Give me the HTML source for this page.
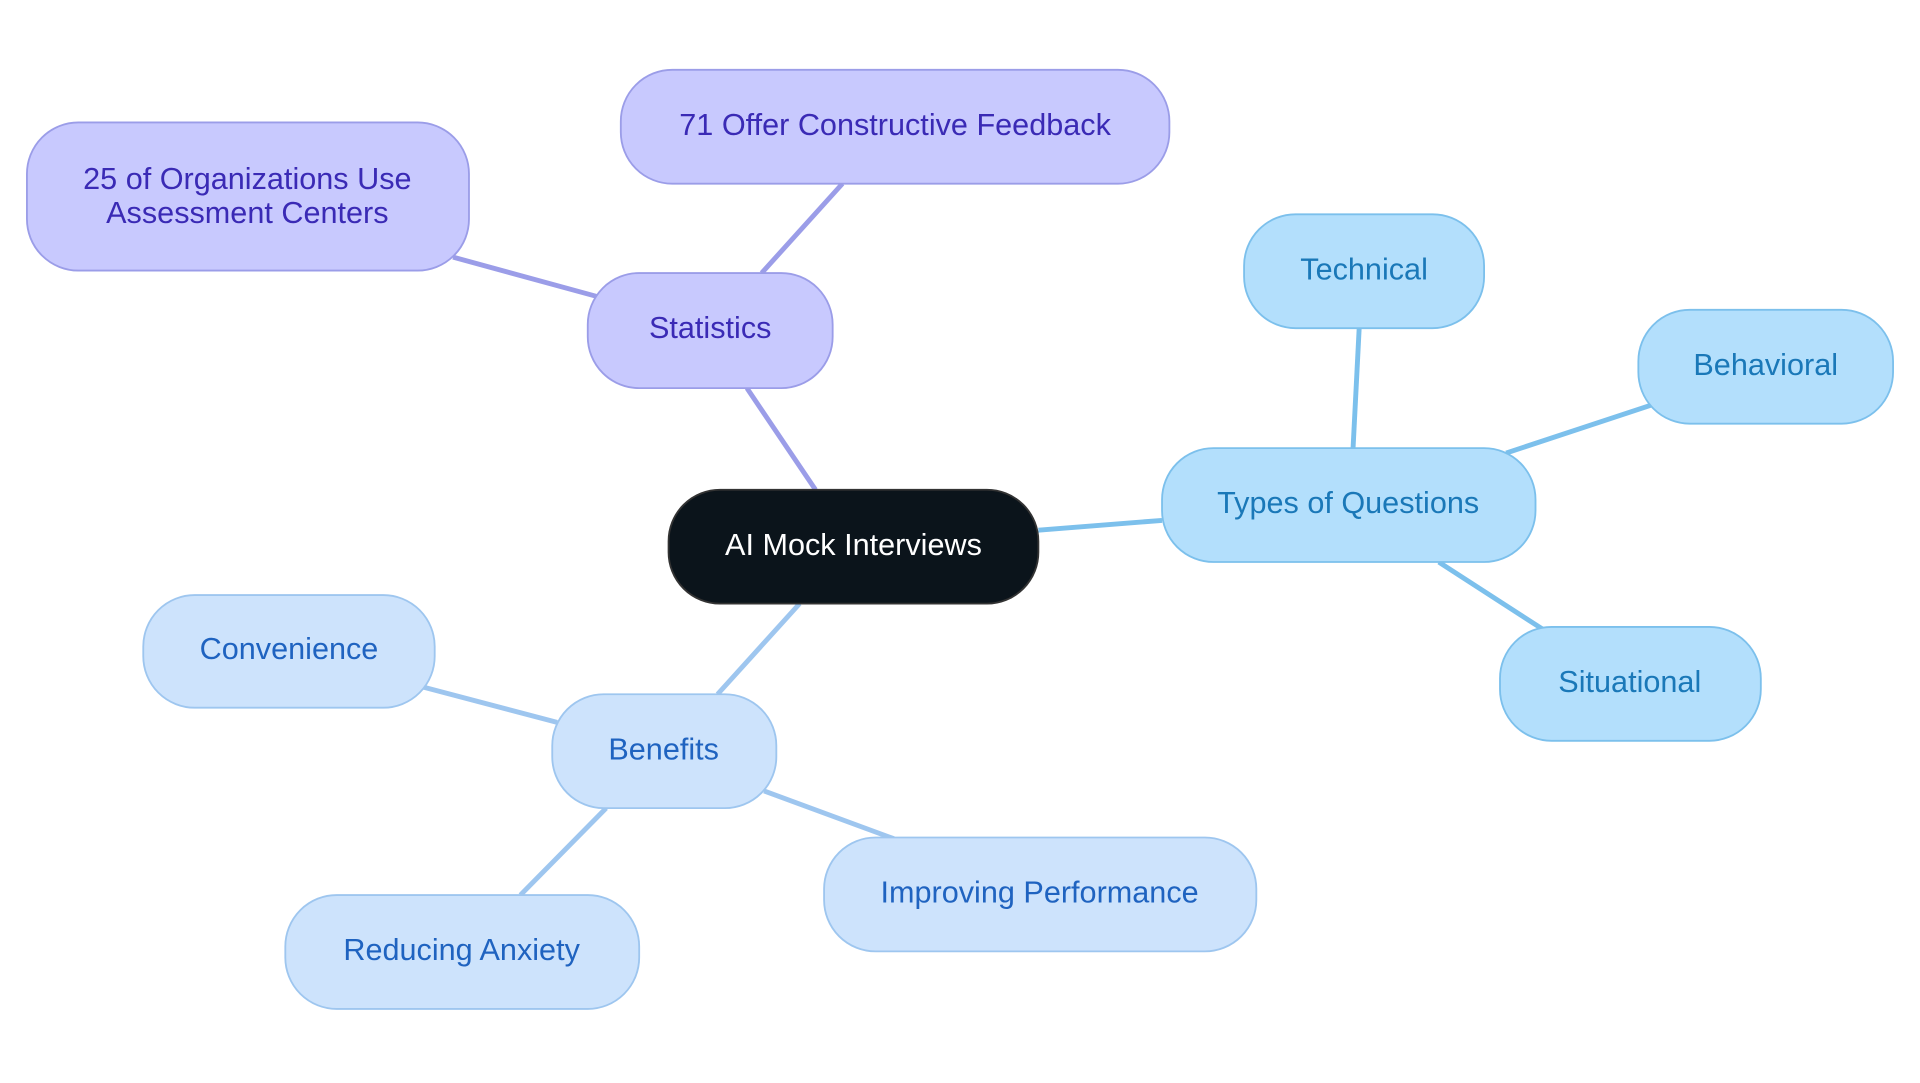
<!DOCTYPE html>
<html><head><meta charset="utf-8"><style>
html,body{margin:0;padding:0;background:#fff;}
svg{display:block;}
text{font-family:"Liberation Sans",sans-serif;font-size:25px;text-anchor:middle;dominant-baseline:central;}
</style></head><body>
<svg width="1920" height="1083" viewBox="0 0 1568 884.5" preserveAspectRatio="none" xmlns="http://www.w3.org/2000/svg">
<g stroke-width="4" fill="none">
<line x1="666" y1="400" x2="610" y2="317" stroke="#9b9de8"/>
<line x1="622" y1="223" x2="688" y2="150" stroke="#9b9de8"/>
<line x1="487" y1="242" x2="370" y2="210" stroke="#9b9de8"/>
<line x1="848" y1="433" x2="949" y2="425" stroke="#7cc0ec"/>
<line x1="1105" y1="366" x2="1110" y2="268" stroke="#7cc0ec"/>
<line x1="1230" y1="370" x2="1348" y2="331" stroke="#7cc0ec"/>
<line x1="1175" y1="459" x2="1260" y2="514" stroke="#7cc0ec"/>
<line x1="653" y1="493" x2="586" y2="567" stroke="#9ec6ef"/>
<line x1="455" y1="590" x2="345" y2="561" stroke="#9ec6ef"/>
<line x1="495" y1="660" x2="425" y2="731" stroke="#9ec6ef"/>
<line x1="624" y1="646" x2="730" y2="685" stroke="#9ec6ef"/>
</g>
<g stroke-width="1.5">
<rect x="546" y="400" width="302" height="93" rx="42" fill="#0b141b" stroke="#333"/>
<rect x="480" y="223" width="200" height="94" rx="42" fill="#c8c9fe" stroke="#9b9de8"/>
<rect x="507" y="57" width="448" height="93" rx="42" fill="#c8c9fe" stroke="#9b9de8"/>
<rect x="22" y="100" width="361" height="121" rx="42" fill="#c8c9fe" stroke="#9b9de8"/>
<rect x="949" y="366" width="305" height="93" rx="42" fill="#b3dffc" stroke="#7cc0ec"/>
<rect x="1016" y="175" width="196" height="93" rx="42" fill="#b3dffc" stroke="#7cc0ec"/>
<rect x="1338" y="253" width="208" height="93" rx="42" fill="#b3dffc" stroke="#7cc0ec"/>
<rect x="1225" y="512" width="213" height="93" rx="42" fill="#b3dffc" stroke="#7cc0ec"/>
<rect x="451" y="567" width="183" height="93" rx="42" fill="#cde3fc" stroke="#9ec6ef"/>
<rect x="117" y="486" width="238" height="92" rx="42" fill="#cde3fc" stroke="#9ec6ef"/>
<rect x="233" y="731" width="289" height="93" rx="42" fill="#cde3fc" stroke="#9ec6ef"/>
<rect x="673" y="684" width="353" height="93" rx="42" fill="#cde3fc" stroke="#9ec6ef"/>
</g>
<text x="697" y="445" fill="#ffffff">AI Mock Interviews</text>
<g fill="#3a2ab5">
<text x="580" y="268">Statistics</text>
<text x="731" y="102">71 Offer Constructive Feedback</text>
<text x="202" y="146">25 of Organizations Use</text>
<text x="202" y="174">Assessment Centers</text>
</g>
<g fill="#1a78b8">
<text x="1101" y="411">Types of Questions</text>
<text x="1114" y="220">Technical</text>
<text x="1442" y="298">Behavioral</text>
<text x="1331" y="557">Situational</text>
</g>
<g fill="#1f63c0">
<text x="542" y="612">Benefits</text>
<text x="236" y="530">Convenience</text>
<text x="377" y="776">Reducing Anxiety</text>
<text x="849" y="729">Improving Performance</text>
</g>
</svg>
</body></html>
